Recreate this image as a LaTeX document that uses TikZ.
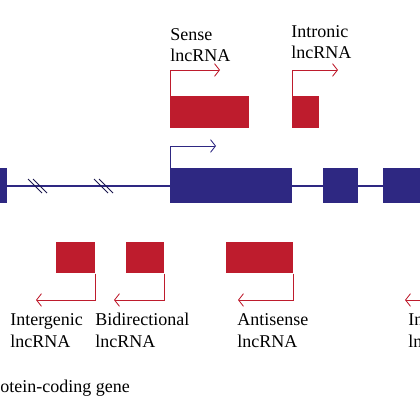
\documentclass[tikz,border=0pt]{standalone}
\usepackage{fontspec}
\setmainfont{Liberation Serif}
\usetikzlibrary{arrows.meta}
\definecolor{geneblue}{RGB}{46,40,130}
\definecolor{lncred}{RGB}{190,28,45}
\newcommand{\pxu}{0.025cm}
\tikzset{
  exon/.style={fill=geneblue, inner sep=0, anchor=north west, minimum height=35*\pxu},
  lncbox/.style={fill=lncred, inner sep=0, anchor=north west},
  tss/.style={line width=0.6pt, -{Straight Barb[length=3.5pt,width=9pt]}},
  lbl/.style={anchor=base west, inner sep=0, align=left, font=\fontsize{12.8}{15.6}\selectfont}
}
\begin{document}
\begin{tikzpicture}[x=\pxu, y=-\pxu]
  \useasboundingbox (0,0) rectangle (420,420);
  \clip (0,0) rectangle (420,420);

  % Protein-coding gene: intron line and exons
  \draw[geneblue, line width=0.8pt] (-10,186) -- (430,186); % Intron backbone
  \node[exon, minimum width=17*\pxu] (ex0) at (-10,168) {};
  \node[exon, minimum width=122*\pxu] (ex1) at (170,168) {};
  \node[exon, minimum width=35*\pxu] (ex2) at (323,168) {};
  \node[exon, minimum width=47*\pxu] (ex3) at (383,168) {};
  \foreach \x in {28,94} {
    \draw[geneblue!60!black, line width=0.6pt] (\x,179) -- ++(14,14) (\x+5,179) -- ++(14,14); % Break marks
  }
  \coordinate (gtip) at (216,146);
  \draw[tss, geneblue] (ex1.north west) |- (gtip); % Gene TSS

  % Sense strand lncRNAs
  \node[lncbox, minimum width=79*\pxu, minimum height=32*\pxu] (sense) at (170,96) {};
  \node[lncbox, minimum width=27*\pxu, minimum height=32*\pxu] (intron) at (292,96) {};
  \coordinate (stip) at (220,70);
  \coordinate (itip) at (338,70);
  \draw[tss, lncred] (sense.north west) |- (stip);
  \draw[tss, lncred] (intron.north west) |- (itip);
  \node[lbl] (senselbl) at (170,62) {Sense\\lncRNA};
  \node[lbl] (intronlbl) at (291,59) {Intronic\\lncRNA};

  % Antisense strand lncRNAs
  \node[lncbox, minimum width=39*\pxu, minimum height=31*\pxu] (inter) at (56,242) {};
  \node[lncbox, minimum width=38*\pxu, minimum height=31*\pxu] (bidir) at (126,242) {};
  \node[lncbox, minimum width=67*\pxu, minimum height=31*\pxu] (anti) at (226,242) {};
  \coordinate (ertip) at (36,300);
  \coordinate (brtip) at (114,300);
  \coordinate (artip) at (238,300);
  \coordinate (irtip) at (405,300);
  \coordinate (iredge) at (430,300);
  \draw[tss, lncred] (inter.south east) |- (ertip);
  \draw[tss, lncred] (bidir.south east) |- (brtip);
  \draw[tss, lncred] (anti.south east) |- (artip);
  \draw[tss, lncred] (iredge) -- (irtip);
  \node[lbl] (interlbl) at (10,347) {Intergenic\\lncRNA};
  \node[lbl] (bidirlbl) at (95,347) {Bidirectional\\lncRNA};
  \node[lbl] (antilbl) at (237,347) {Antisense\\lncRNA};
  \node[lbl] (iaslbl) at (408,347) {In\\lncRNA};

  % Legend
  \node[lbl] (legend) at (0,392) {otein-coding gene};
\end{tikzpicture}
\end{document}
